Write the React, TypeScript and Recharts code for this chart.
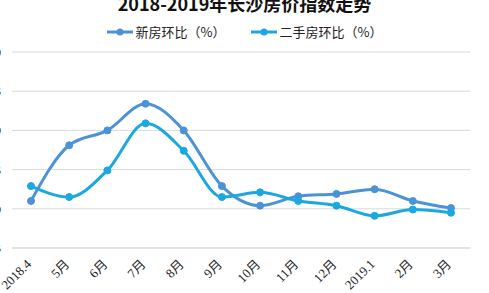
import { LineChart, Line, XAxis, YAxis, CartesianGrid, Legend } from "recharts";

const months = ["2018.4", "5月", "6月", "7月", "8月", "9月", "10月", "11月", "12月", "2019.1", "2月", "3月"];
const newHouse = [0.1, 0.81, 1.0, 1.34, 1.0, 0.29, 0.04, 0.16, 0.19, 0.25, 0.1, 0.01];
const secondHand = [0.29, 0.15, 0.49, 1.09, 0.74, 0.15, 0.21, 0.1, 0.04, -0.09, -0.01, -0.05];
const yTicks = [-0.5, 0, 0.5, 1, 1.5, 2];

const NEW_COLOR = "#4b92d6";
const USED_COLOR = "#1ba8e0";

const rows = months.map((m, i) => ({ month: m, newHouse: newHouse[i], secondHand: secondHand[i] }));

const series = [
  { key: "newHouse", name: "新房环比（%）", color: NEW_COLOR },
  { key: "secondHand", name: "二手房环比（%）", color: USED_COLOR },
];

const MonthTick = (props: any) => {
  const { x, y, payload } = props;
  const ax = x + 1;
  const ay = y + 9;
  return (
    <text
      x={ax}
      y={ay}
      transform={`rotate(-45, ${ax}, ${ay})`}
      textAnchor="end"
      fontSize={13}
      fontFamily="'Liberation Serif', 'Noto Sans CJK SC', serif"
      fill="#222"
    >
      {payload.value}
    </text>
  );
};

const LegendBox = () => (
  <div style={{ display: "flex", justifyContent: "center", alignItems: "center", gap: 25 }}>
    {series.map((s) => (
      <div key={s.key} style={{ display: "flex", alignItems: "center" }}>
        <svg width={26} height={10} style={{ marginRight: 3 }}>
          <line x1={0} y1={5} x2={26} y2={5} stroke={s.color} strokeWidth={3} />
          <circle cx={13} cy={5} r={3.5} fill={s.color} />
        </svg>
        <span style={{ fontSize: 13, color: "#222", fontFamily: "'Noto Sans CJK SC', sans-serif", lineHeight: "16px" }}>
          {s.name}
        </span>
      </div>
    ))}
  </div>
);

export default function App() {
  return (
    <div style={{ position: "absolute", left: 0, top: 0, width: 489, height: 293, background: "#fff", overflow: "hidden" }}>
      <div
        style={{
          position: "absolute",
          left: 0,
          width: 489,
          top: -9,
          textAlign: "center",
          fontSize: 18,
          fontWeight: "bold",
          fontFamily: "'Noto Sans CJK SC', serif",
          color: "#111",
          lineHeight: "24px",
        }}
      >
        2018-2019年长沙房价指数走势
      </div>
      <LineChart width={489} height={293} data={rows} margin={{ top: 36, right: 19, bottom: 0, left: 0 }}>
        <CartesianGrid vertical={false} stroke="#d9d9d9" />
        <XAxis
          dataKey="month"
          height={45}
          interval={0}
          padding={{ left: 19, right: 19 }}
          tickLine={false}
          axisLine={{ stroke: "#d9d9d9" }}
          tick={<MonthTick />}
        />
        <YAxis
          width={12}
          domain={[-0.5, 2]}
          ticks={yTicks}
          tickLine={false}
          axisLine={false}
          tick={{ fontSize: 11, fill: "#222", dx: -3 }}
          tickFormatter={(v: number) => v.toFixed(1)}
        />
        <Legend verticalAlign="top" wrapperStyle={{ top: 24, left: 0, width: 489 }} content={<LegendBox />} />
        {series.map((s) => (
          <Line
            key={s.key}
            type="monotone"
            dataKey={s.key}
            name={s.name}
            stroke={s.color}
            strokeWidth={3}
            dot={{ r: 3.5, fill: s.color, stroke: s.color, strokeWidth: 1 }}
            isAnimationActive={false}
          />
        ))}
      </LineChart>
    </div>
  );
}
